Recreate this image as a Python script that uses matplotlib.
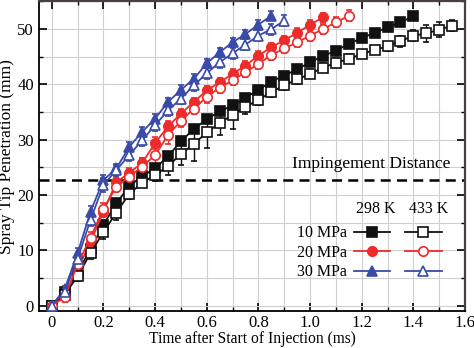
import matplotlib
matplotlib.use('Agg')
import matplotlib.pyplot as plt
from matplotlib.ticker import MultipleLocator
import numpy as np

# データ (ms, mm)
t_10_298 = np.arange(0, 1.401, 0.05)
v_10_298 = [0, 2.5, 6.0, 10.2, 14.6, 18.5, 21.6, 23.4, 24.8, 27.0, 29.7, 31.9, 33.7, 35.1,
            36.2, 37.6, 39.0, 40.5, 41.6, 42.7, 44.0, 45.1, 46.1, 47.3, 48.4, 49.3, 50.3,
            51.2, 52.3]
e_10_298 = [0.3, 0.5, 0.6, 0.8, 0.8, 0.8, 0.7, 0.6, 0.6, 0.7, 0.7, 0.6, 0.6, 0.6, 0.6,
            0.6, 0.6, 0.6, 0.6, 0.6, 0.6, 0.6, 0.6, 0.6, 0.6, 0.6, 0.6, 0.6, 0.6]

t_10_433 = np.arange(0, 1.551, 0.05)
v_10_433 = [0, 2.0, 5.3, 9.5, 13.3, 16.8, 20.2, 22.2, 23.6, 25.2, 27.4, 29.2, 31.3, 33.0,
            34.5, 35.9, 37.2, 38.6, 39.8, 40.9, 41.9, 43.0, 43.9, 44.6, 45.5, 46.2, 46.9,
            47.8, 48.8, 49.2, 49.9, 50.6]
e_10_433 = [0.3, 0.6, 0.8, 1.0, 1.2, 1.3, 1.0, 0.8, 1.0, 1.5, 2.0, 3.0, 2.8, 2.2, 2.5,
            1.2, 1.0, 0.9, 0.8, 0.8, 0.8, 0.8, 0.8, 0.8, 0.8, 0.8, 0.8, 1.0, 1.0, 1.5,
            1.3, 1.0]

t_20_298 = np.arange(0, 1.051, 0.05)
v_20_298 = [0, 2.0, 6.5, 11.5, 17.0, 22.3, 24.0, 25.8, 29.4, 32.4, 34.7, 36.8, 38.9, 40.4,
            41.9, 43.4, 45.2, 46.7, 48.0, 49.3, 50.8, 52.1]
e_20_298 = [0.3, 0.8, 1.0, 1.0, 1.0, 0.9, 0.8, 0.8, 1.0, 1.0, 0.9, 0.8, 0.8, 0.8, 0.8,
            0.8, 0.8, 0.8, 0.8, 0.8, 0.8, 0.8]

t_20_433 = np.arange(0, 1.151, 0.05)
v_20_433 = [0, 1.5, 7.5, 12.3, 17.5, 21.5, 23.3, 25.1, 27.2, 30.8, 33.4, 35.6, 37.7, 39.4,
            40.7, 42.2, 43.7, 45.3, 46.5, 47.6, 48.8, 50.0, 51.2, 52.4]
e_20_433 = [0.3, 0.8, 1.0, 1.0, 1.0, 1.0, 1.2, 1.5, 1.6, 1.6, 1.2, 1.0, 1.0, 0.9, 0.9,
            0.9, 0.9, 0.9, 0.9, 0.9, 0.9, 0.9, 0.9, 1.0]

t_30_298 = np.arange(0, 0.851, 0.05)
v_30_298 = [0, 3.0, 9.5, 17.0, 22.7, 24.8, 28.7, 31.4, 33.8, 36.8, 39.0, 41.0, 43.8, 45.8,
            47.6, 49.1, 50.8, 52.4]
e_30_298 = [0.3, 0.6, 1.0, 1.0, 0.9, 0.8, 0.8, 0.8, 0.8, 0.8, 0.8, 0.8, 0.8, 0.8, 0.8,
            0.8, 0.8, 0.8]

t_30_433 = np.arange(0, 0.901, 0.05)
v_30_433 = [0, 2.5, 8.5, 15.5, 21.8, 24.5, 27.2, 29.9, 32.6, 35.3, 37.4, 39.8, 42.0, 44.0,
            45.6, 47.2, 48.8, 50.0, 51.5]
e_30_433 = [0.3, 0.6, 1.0, 1.2, 1.2, 1.0, 1.0, 1.0, 1.0, 1.0, 1.0, 1.0, 1.0, 1.0, 1.0,
            1.0, 1.0, 1.0, 1.0]

impingement = 22.7
pressures = ['10 MPa', '20 MPa', '30 MPa']
temps = ['298 K', '433 K']

black = '#111111'
red = '#ee2b2b'
blue = '#3a4aa8'

plt.rcParams['font.family'] = ['Liberation Serif', 'DejaVu Serif']
plt.rcParams['font.size'] = 11

fig = plt.figure(figsize=(4.74, 3.48), dpi=100)
ax = fig.add_axes([0.082, 0.106, 0.899, 0.89])

series = [
    (t_10_298, v_10_298, e_10_298, black, 's', True),
    (t_20_298, v_20_298, e_20_298, red, 'o', True),
    (t_30_298, v_30_298, e_30_298, blue, '^', True),
    (t_10_433, v_10_433, e_10_433, black, 's', False),
    (t_20_433, v_20_433, e_20_433, red, 'o', False),
    (t_30_433, v_30_433, e_30_433, blue, '^', False),
]

handles = []
for t, v, e, c, m, filled in series:
    fc = c if filled else 'white'
    ms = 6.8 if m != '^' else 7.5
    h = ax.errorbar(t, v, yerr=e, color=c, marker=m, ms=ms, mfc=fc, mec=c, mew=1.2,
                    lw=1.3, elinewidth=1.0, capsize=2.5, capthick=1.0, zorder=3)
    handles.append(h[0])

ax.axhline(impingement, color='black', lw=1.8, ls=(0, (4, 2.5)), zorder=2)
ax.text(1.545, impingement + 1.4, 'Impingement Distance', ha='right', va='bottom',
        fontsize=12.5)

ax.set_xlim(-0.05, 1.6)
ax.set_ylim(-1, 55)
ax.xaxis.set_major_locator(MultipleLocator(0.2))
ax.xaxis.set_minor_locator(MultipleLocator(0.1))
ax.yaxis.set_major_locator(MultipleLocator(10))
ax.yaxis.set_minor_locator(MultipleLocator(5))
ax.xaxis.set_major_formatter(plt.FuncFormatter(lambda x, p: '0' if abs(x) < 1e-9 else '%.1f' % x))
ax.grid(True, which='both', color='#cfcfcf', lw=0.8, zorder=0)
ax.set_axisbelow(True)
ax.tick_params(which='both', direction='in', top=True, right=True, labelsize=12)
ax.tick_params(which='major', length=6, width=1.2)
ax.tick_params(which='minor', length=3, width=1.0)
ax.tick_params(axis='x', pad=3)
for s in ['left', 'bottom']:
    ax.spines[s].set_linewidth(1.3)
for s in ['top', 'right']:
    ax.spines[s].set_linewidth(1.6)
    ax.spines[s].set_color('#4a3f3f')

ax.set_xlabel('Time after Start of Injection (ms)', fontsize=11.2, labelpad=0)
ax.set_ylabel('Spray Tip Penetration (mm)', fontsize=12.5, labelpad=2)

# 凡例: 左に圧力, 上に温度
leg = ax.legend(handles, pressures + ['', '', ''], ncol=2, markerfirst=False, frameon=False,
                loc='upper right', bbox_to_anchor=(0.975, 0.318), handlelength=2.3,
                handletextpad=0.4, columnspacing=0.5, labelspacing=0.22, fontsize=11.5,
                borderpad=0.3)
ax.text(0.79, 0.305, temps[0], transform=ax.transAxes, ha='center', va='bottom', fontsize=11.5)
ax.text(0.914, 0.305, temps[1], transform=ax.transAxes, ha='center', va='bottom', fontsize=11.5)

fig.savefig('out.png', dpi=100)
